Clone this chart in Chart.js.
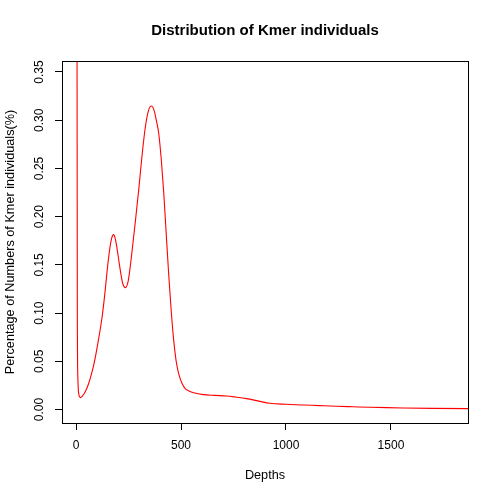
<!DOCTYPE html>
<html>
<head>
<meta charset="utf-8">
<script src="https://cdn.jsdelivr.net/npm/chart.js@4"></script>
<style>
  html, body { margin: 0; padding: 0; background: #fff; }
  #wrap { width: 500px; height: 500px; }
</style>
</head>
<body>
<div id="wrap"><canvas id="kmerChart" width="500" height="500"></canvas></div>
<script>
  // depth values and the share of kmers at each depth
  const depths = [1, 4, 6, 9, 14, 20, 30, 45, 60, 76, 92, 108, 124, 138, 148, 160, 170, 179, 188, 200,
    211, 222, 235, 248, 258, 267, 283, 298, 315, 330, 345, 359, 372, 384, 394, 406, 417, 429, 441, 453,
    465, 477, 489, 505, 520, 535, 560, 606, 660, 717, 760, 812, 870, 924, 1000, 1083, 1160, 1241, 1320,
    1400, 1480, 1559, 1700, 1870, 2000];
  const percents = [2.5, 0.5, 0.1, 0.03, 0.015, 0.0124, 0.014, 0.019, 0.027, 0.039, 0.0545, 0.074, 0.096,
    0.122, 0.144, 0.166, 0.178, 0.1814, 0.176, 0.160, 0.144, 0.131, 0.1265, 0.133, 0.148, 0.165, 0.196,
    0.227, 0.265, 0.293, 0.310, 0.3147, 0.310, 0.298, 0.286, 0.259, 0.227, 0.184, 0.141, 0.103, 0.072,
    0.050, 0.037, 0.027, 0.0218, 0.0195, 0.0175, 0.0155, 0.0147, 0.0141, 0.013, 0.0114, 0.0088, 0.0065,
    0.0055, 0.0048, 0.0041, 0.0034, 0.0029, 0.0024, 0.0020, 0.0017, 0.0013, 0.0010, 0.0009];
  const xTicks = [0, 500, 1000, 1500];
  const yTicks = [0, 0.05, 0.10, 0.15, 0.20, 0.25, 0.30, 0.35];

  const FONT = 'Liberation Sans, Arial, Helvetica, sans-serif';

  // R style: full box round the plot region, y labels parallel to the axis
  const rFrame = {
    id: 'rFrame',
    afterDraw(c) {
      const a = c.chartArea;
      const ctx = c.ctx;
      ctx.save();
      ctx.strokeStyle = '#000';
      ctx.lineWidth = 1;
      ctx.strokeRect(Math.round(a.left) + 0.5, Math.round(a.top) + 0.5,
        Math.round(a.right - a.left), Math.round(a.bottom - a.top));
      const ys = c.scales.y;
      ctx.fillStyle = '#000';
      ctx.font = '12px ' + FONT;
      ctx.textAlign = 'center';
      ctx.textBaseline = 'middle';
      yTicks.forEach(v => {
        ctx.save();
        ctx.translate(40, ys.getPixelForValue(v));
        ctx.rotate(-Math.PI / 2);
        ctx.fillText(v.toFixed(2), 0, 0);
        ctx.restore();
      });
      ctx.restore();
    }
  };

  const ctx = document.getElementById('kmerChart').getContext('2d');
  new Chart(ctx, {
    type: 'line',
    data: {
      datasets: [{
        data: depths.map((d, i) => ({ x: d, y: percents[i] })),
        borderColor: '#ff0000',
        borderWidth: 1.1,
        pointRadius: 0,
        fill: false,
        cubicInterpolationMode: 'monotone'
      }]
    },
    options: {
      responsive: false,
      animation: false,
      layout: { padding: { left: 0, right: 32, top: 0, bottom: 0 } },
      plugins: {
        legend: { display: false },
        tooltip: { enabled: false },
        title: {
          display: true,
          fullSize: false,
          text: 'Distribution of Kmer individuals',
          color: '#000',
          font: { family: FONT, size: 15, weight: 'bold' },
          padding: { top: 22, bottom: 21 }
        }
      },
      scales: {
        x: {
          type: 'linear',
          min: -67,
          max: 1867,
          afterBuildTicks: s => { s.ticks = xTicks.map(v => ({ value: v })); },
          afterFit: s => { s.height = 77; },
          grid: { drawOnChartArea: false, drawTicks: true, tickLength: 7, color: '#000' },
          border: { display: true, color: '#000' },
          ticks: {
            color: '#000',
            font: { family: FONT, size: 12 },
            padding: 8,
            maxRotation: 0,
            callback: v => String(v)
          },
          title: {
            display: true,
            text: 'Depths',
            color: '#000',
            font: { family: FONT, size: 12.7 },
            padding: { top: 0, bottom: 16.4 }
          }
        },
        y: {
          min: -0.0139,
          max: 0.3614,
          afterBuildTicks: s => { s.ticks = yTicks.map(v => ({ value: v })); },
          afterFit: s => { s.width = 62; },
          grid: { drawOnChartArea: false, drawTicks: true, tickLength: 7, color: '#000' },
          border: { display: true, color: '#000' },
          ticks: { display: false },
          title: {
            display: true,
            text: 'Percentage of Numbers of Kmer individuals(%)',
            color: '#000',
            font: { family: FONT, size: 12.7 },
            padding: { top: 2.4, bottom: 0 }
          }
        }
      }
    },
    plugins: [rFrame]
  });
</script>
</body>
</html>
